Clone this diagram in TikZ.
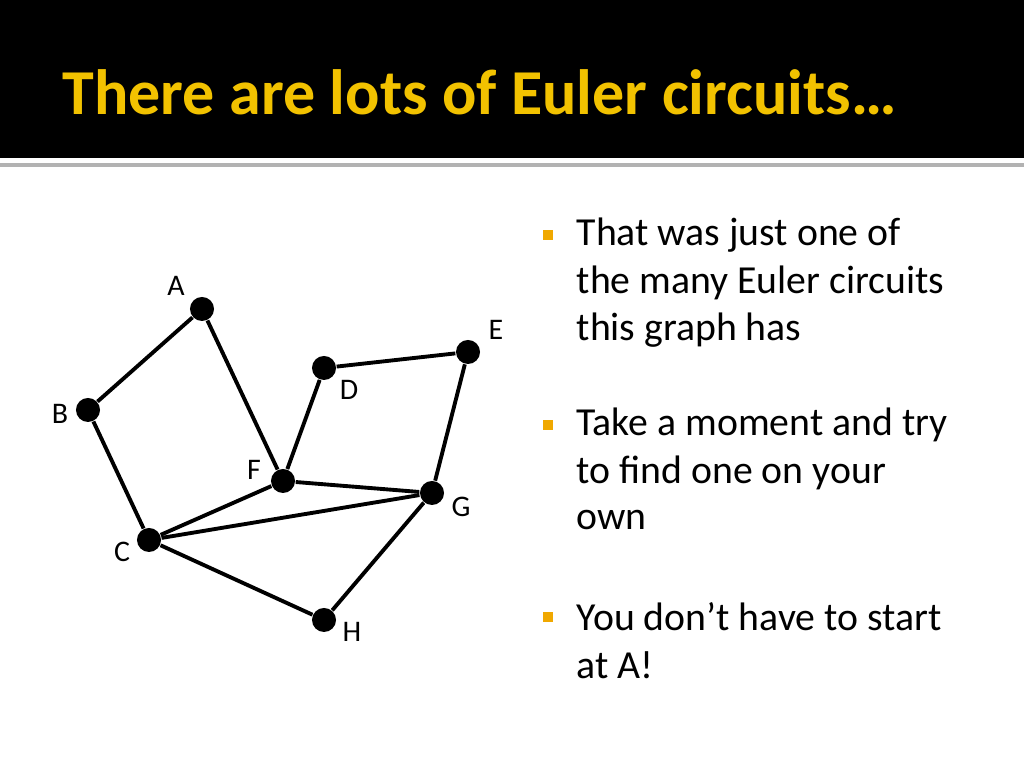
\documentclass[tikz,border=0pt]{standalone}
\usepackage{fontspec}
\setmainfont{Carlito}
\definecolor{titleyellow}{HTML}{F2C200}
\definecolor{bulletorange}{HTML}{F0A800}
\tikzset{
  vertex/.style={circle, fill=black, inner sep=0pt, minimum size=0.24cm},
  vlabel/.style={font=\fontsize{8.5}{9}\selectfont},
  edge/.style={line width=1.1pt},
  bullettext/.style={anchor=west, font=\fontsize{11.3}{13.4}\selectfont, inner sep=0pt}
}
\begin{document}
\begin{tikzpicture}[x=0.01cm, y=-0.01cm]
  \useasboundingbox (0,0) rectangle (1024,768);
  \fill[black] (0,0) rectangle (1024,158);
  \fill[gray!60] (0,163) rectangle (1024,167);
  \node[anchor=west, text=titleyellow, font=\fontsize{18.2}{22}\selectfont\bfseries, inner sep=0pt] (title) at (62,92) {There are lots of Euler circuits…};
  % vertices
  \node[vertex] (A) at (202,309) {};
  \node[vertex] (B) at (88,410) {};
  \node[vertex] (C) at (149,540) {};
  \node[vertex] (D) at (324,368) {};
  \node[vertex] (E) at (468,352) {};
  \node[vertex] (F) at (283,481) {};
  \node[vertex] (G) at (432,493) {};
  \node[vertex] (H) at (324,620) {};
  % labels
  \node[vlabel] at (176,286) {A};
  \node[vlabel] at (60,414) {B};
  \node[vlabel] at (122,552) {C};
  \node[vlabel] at (349,390) {D};
  \node[vlabel] at (496,330) {E};
  \node[vlabel] at (254,470) {F};
  \node[vlabel] at (461,507) {G};
  \node[vlabel] at (352,632) {H};
  % edges
  \foreach \u/\v in {A/B, B/C, A/F, F/D, D/E, E/G, F/G, C/F, C/G, C/H, H/G}
    \draw[edge] (\u) -- (\v);
  % bullets
  \foreach \y in {235,425,617}
    \fill[bulletorange] (543,\y-5) rectangle (553,\y+5);
  \node[bullettext] (l1) at (576,235) {That was just one of};
  \node[bullettext] (l2) at (576,283) {the many Euler circuits};
  \node[bullettext] (l3) at (576,330) {this graph has};
  \node[bullettext] (l4) at (576,425) {Take a moment and try};
  \node[bullettext] (l5) at (576,473) {to find one on your};
  \node[bullettext] (l6) at (576,520) {own};
  \node[bullettext] (l7) at (576,617) {You don’t have to start};
  \node[bullettext] (l8) at (576,665) {at A!};
\end{tikzpicture}
\end{document}
